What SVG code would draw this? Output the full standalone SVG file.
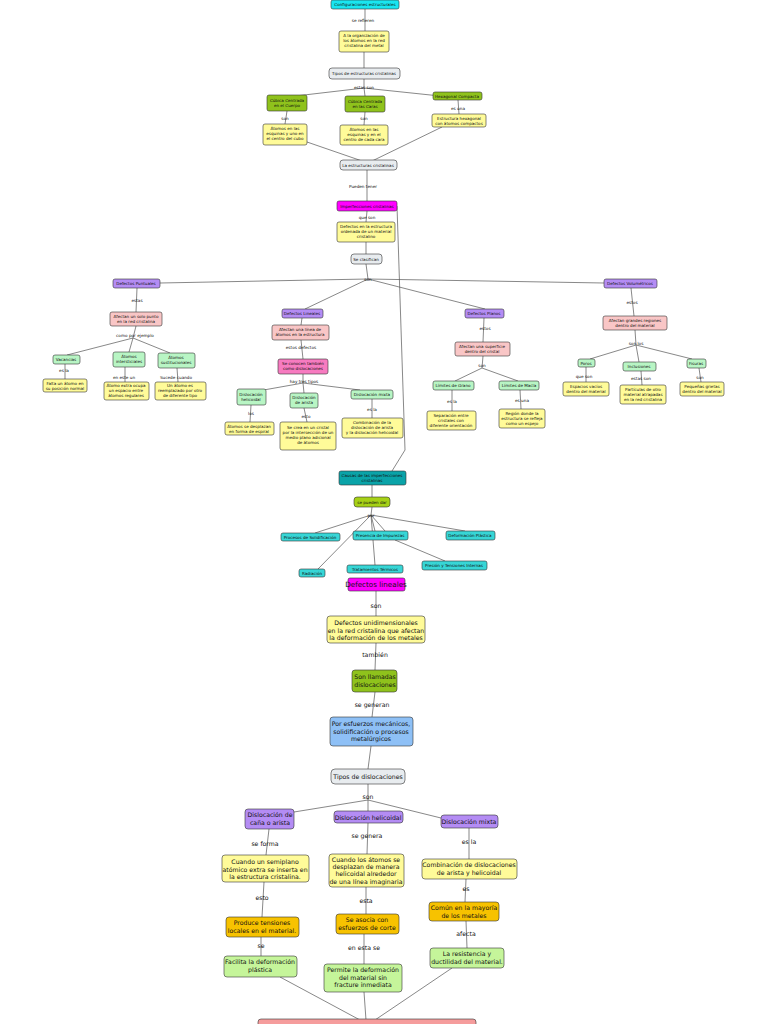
<svg xmlns="http://www.w3.org/2000/svg" width="768" height="1024" viewBox="0 0 768 1024">
<style>
text{font-family:"DejaVu Sans","Liberation Sans",sans-serif;text-anchor:middle;fill:#111}
.s{font-size:4.1px}.b{font-size:6.2px}.l{font-size:4.2px}.lb{font-size:6.2px}
rect{stroke:#333;stroke-width:0.6}
.cy{fill:#19e6f0}.ye{fill:#fffb99}.gr{fill:#e8ecef}.ol{fill:#8fc21c}.mg{fill:#ff00ff}.pu{fill:#b48cf4}.pk{fill:#f9c6c6}.hp{fill:#f77bc0}.lg{fill:#b8f5c4}.tl{fill:#0aa3a8}.yg{fill:#a6d116}.cs{fill:#37d6d6}.bl{fill:#8ec0f6}.or{fill:#f7c200}.lgg{fill:#c5f59a}.sa{fill:#f59c9c}
#conn line,#conn polyline{stroke:#555;stroke-width:0.7;fill:none}
</style>
<g id="conn">
<line x1="365" y1="9" x2="365" y2="31"/><line x1="364" y1="52" x2="364" y2="68"/><line x1="364" y1="79" x2="364" y2="88"/>
<line x1="364" y1="88" x2="287" y2="97"/><line x1="364" y1="88" x2="365" y2="96"/><line x1="364" y1="88" x2="440" y2="96"/>
<line x1="287" y1="111" x2="285" y2="124"/><line x1="365" y1="112" x2="364" y2="125"/><line x1="458" y1="100" x2="459" y2="114"/>
<line x1="307" y1="142" x2="365" y2="162"/><line x1="442" y1="127" x2="370" y2="162"/>
<line x1="367" y1="170" x2="367" y2="201"/><line x1="367" y1="211" x2="366" y2="222"/><line x1="366" y1="242" x2="366" y2="254"/><line x1="366" y1="264" x2="368" y2="279"/>
<line x1="368" y1="279" x2="160" y2="283"/><line x1="368" y1="279" x2="305" y2="309"/><line x1="368" y1="279" x2="485" y2="309"/><line x1="368" y1="279" x2="604" y2="283"/>
<polyline points="397,206 405,450 392,471"/>
<line x1="137" y1="288" x2="136" y2="312"/><line x1="136" y1="326" x2="133" y2="338"/>
<line x1="133" y1="338" x2="67" y2="355"/><line x1="133" y1="338" x2="129" y2="352"/><line x1="133" y1="338" x2="170" y2="353"/>
<line x1="65" y1="364" x2="65" y2="379"/><line x1="125" y1="367" x2="125" y2="382"/><line x1="177" y1="368" x2="178" y2="382"/>
<line x1="302" y1="318" x2="301" y2="325"/><line x1="301" y1="340" x2="303" y2="359"/><line x1="303" y1="374" x2="303" y2="383"/>
<line x1="303" y1="383" x2="258" y2="391"/><line x1="303" y1="383" x2="304" y2="393"/><line x1="303" y1="383" x2="360" y2="390"/>
<line x1="251" y1="405" x2="250" y2="422"/><line x1="304" y1="408" x2="307" y2="422"/><line x1="372" y1="399" x2="372" y2="418"/>
<line x1="484" y1="318" x2="483" y2="342"/><line x1="483" y1="356" x2="482" y2="368"/><line x1="482" y1="368" x2="455" y2="381"/><line x1="482" y1="368" x2="518" y2="381"/>
<line x1="452" y1="390" x2="452" y2="411"/><line x1="520" y1="390" x2="521" y2="409"/>
<line x1="631" y1="288" x2="634" y2="316"/><line x1="635" y1="330" x2="636" y2="345"/>
<line x1="636" y1="345" x2="590" y2="359"/><line x1="636" y1="345" x2="639" y2="362"/><line x1="636" y1="345" x2="692" y2="359"/>
<line x1="586" y1="367" x2="586" y2="382"/><line x1="641" y1="371" x2="642" y2="385"/><line x1="699" y1="368" x2="701" y2="382"/>
<line x1="372" y1="485" x2="372" y2="497"/><line x1="372" y1="507" x2="371" y2="515"/>
<line x1="371" y1="515" x2="315" y2="533"/><line x1="371" y1="515" x2="375" y2="531"/><line x1="371" y1="515" x2="465" y2="531"/><line x1="371" y1="515" x2="318" y2="569"/><line x1="371" y1="515" x2="375" y2="565"/><line x1="371" y1="515" x2="385" y2="531"/><line x1="395" y1="540" x2="445" y2="561"/>
<line x1="376" y1="591" x2="376" y2="616"/><line x1="376" y1="643" x2="375" y2="670"/><line x1="375" y1="692" x2="372" y2="717"/><line x1="371" y1="746" x2="368" y2="769"/><line x1="368" y1="784" x2="368" y2="800"/>
<line x1="368" y1="800" x2="294" y2="812"/><line x1="368" y1="800" x2="368" y2="811"/><line x1="368" y1="800" x2="441" y2="818"/>
<line x1="269" y1="829" x2="266" y2="855"/><line x1="368" y1="823" x2="367" y2="854"/><line x1="469" y1="828" x2="469" y2="859"/>
<line x1="264" y1="882" x2="262" y2="917"/><line x1="366" y1="887" x2="366" y2="914"/><line x1="466" y1="879" x2="465" y2="902"/>
<line x1="261" y1="937" x2="261" y2="956"/><line x1="364" y1="934" x2="364" y2="964"/><line x1="466" y1="921" x2="467" y2="948"/>
<line x1="280" y1="977" x2="360" y2="1020"/><line x1="364" y1="992" x2="366" y2="1020"/><line x1="452" y1="968" x2="375" y2="1020"/>
</g>
<g id="labels" class="l">
<text x="363" y="22">se refieren</text><text x="364" y="89">estas son</text><text x="285" y="120">son</text><text x="364" y="120">son</text><text x="458" y="110">es una</text>
<text x="363" y="188">Pueden tener</text><text x="367" y="219">que son</text><text x="368" y="281">son</text>
<text x="137" y="302">estas</text><text x="135" y="337">como por ejemplo</text><text x="64" y="372">es la</text><text x="124" y="379">en este un</text><text x="176" y="379">Sucede cuando</text>
<text x="301" y="349">estos defectos</text><text x="304" y="383">hay tres tipos</text><text x="251" y="415">los</text><text x="306" y="418">esto</text><text x="372" y="411">es la</text>
<text x="485" y="330">estos</text><text x="482" y="367">son</text><text x="452" y="403">es la</text><text x="522" y="402">es una</text>
<text x="632" y="304">estos</text><text x="636" y="345">son los</text><text x="584" y="378">que son</text><text x="641" y="380">estas son</text><text x="700" y="379">son</text>
<text x="371" y="517">por</text>
</g>
<g id="labels2" class="lb">
<text x="376" y="608">son</text><text x="375" y="657">también</text><text x="372" y="707">se generan</text><text x="368" y="799">son</text>
<text x="265" y="846">se forma</text><text x="367" y="838">se genera</text><text x="469" y="844">es la</text>
<text x="262" y="900">esto</text><text x="366" y="903">esta</text><text x="466" y="891">es</text>
<text x="261" y="948">se</text><text x="364" y="950">en esta se</text><text x="466" y="936">afecta</text>
</g>
<g id="n1"><rect class="cy" x="331" y="0" width="68" height="9" rx="2"/><text class="s" x="365" y="6">Configuraciones estructurales</text></g>
<g id="n2"><rect class="ye" x="339" y="31" width="50" height="21" rx="2"/><text class="s" x="364" y="37">A la organización de<tspan x="364" dy="5">los átomos en la red</tspan><tspan x="364" dy="5">cristalina del metal</tspan></text></g>
<g id="n3"><rect class="gr" x="329" y="68" width="71" height="11" rx="3"/><text class="s" x="364" y="75">Tipos de estructuras cristalinas</text></g>
<g id="n4"><rect class="ol" x="267" y="95" width="40" height="16" rx="2"/><text class="s" x="287" y="102">Cúbica Centrada<tspan x="287" dy="5">en el Cuerpo</tspan></text></g>
<g id="n5"><rect class="ol" x="345" y="96" width="40" height="16" rx="2"/><text class="s" x="365" y="103">Cúbica Centrada<tspan x="365" dy="5">en las Caras</tspan></text></g>
<g id="n6"><rect class="ol" x="433" y="92" width="49" height="8" rx="2"/><text class="s" x="457" y="97.5">Hexagonal Compacta</text></g>
<g id="n7"><rect class="ye" x="263" y="124" width="44" height="21" rx="2"/><text class="s" x="285" y="130">Átomos en las<tspan x="285" dy="5">esquinas y uno en</tspan><tspan x="285" dy="5">el centro del cubo</tspan></text></g>
<g id="n8"><rect class="ye" x="340" y="125" width="48" height="20" rx="2"/><text class="s" x="364" y="131">Átomos en las<tspan x="364" dy="5">esquinas y en el</tspan><tspan x="364" dy="5">centro de cada cara</tspan></text></g>
<g id="n9"><rect class="ye" x="432" y="114" width="54" height="13" rx="2"/><text class="s" x="459" y="120">Estructura hexagonal<tspan x="459" dy="5">con átomos compactos</tspan></text></g>
<g id="n10"><rect class="gr" x="340" y="160" width="57" height="10" rx="3"/><text class="s" x="368" y="166.5">La estructuras cristalinas</text></g>
<g id="n11"><rect class="mg" x="337" y="201" width="60" height="10" rx="2"/><text class="s" x="367" y="207.5">Imperfecciones cristalinas</text></g>
<g id="n12"><rect class="ye" x="337" y="222" width="58" height="20" rx="2"/><text class="s" x="366" y="228">Defectos en la estructura<tspan x="366" dy="5">ordenada de un material</tspan><tspan x="366" dy="5">cristalino</tspan></text></g>
<g id="n13"><rect class="gr" x="351" y="254" width="31" height="10" rx="3"/><text class="s" x="366" y="260.5">Se clasifican</text></g>
<g id="n14"><rect class="pu" x="113" y="279" width="47" height="9" rx="2"/><text class="s" x="136" y="285">Defectos Puntuales</text></g>
<g id="n15"><rect class="pk" x="110" y="312" width="52" height="14" rx="2"/><text class="s" x="136" y="318">Afectan un solo punto<tspan x="136" dy="5">en la red cristalina</tspan></text></g>
<g id="n16"><rect class="lg" x="53" y="355" width="27" height="9" rx="2"/><text class="s" x="66" y="361">Vacancias</text></g>
<g id="n17"><rect class="lg" x="113" y="352" width="32" height="15" rx="2"/><text class="s" x="129" y="358">Átomos<tspan x="129" dy="5">intersticiales</tspan></text></g>
<g id="n18"><rect class="lg" x="158" y="353" width="37" height="15" rx="2"/><text class="s" x="176" y="359">Átomos<tspan x="176" dy="5">sustitucionales</tspan></text></g>
<g id="n19"><rect class="ye" x="43" y="379" width="44" height="13" rx="2"/><text class="s" x="65" y="385">Falta un átomo en<tspan x="65" dy="5">su posición normal</tspan></text></g>
<g id="n20"><rect class="ye" x="104" y="382" width="45" height="18" rx="2"/><text class="s" x="126" y="387">Átomo extra ocupa<tspan x="126" dy="5">un espacio entre</tspan><tspan x="126" dy="5">átomos regulares</tspan></text></g>
<g id="n21"><rect class="ye" x="155" y="382" width="51" height="18" rx="2"/><text class="s" x="180" y="387">Un átomo es<tspan x="180" dy="5">reemplazado por otro</tspan><tspan x="180" dy="5">de diferente tipo</tspan></text></g>
<g id="n22"><rect class="pu" x="282" y="309" width="41" height="9" rx="2"/><text class="s" x="302" y="315">Defectos Lineales</text></g>
<g id="n23"><rect class="pk" x="272" y="325" width="57" height="15" rx="2"/><text class="s" x="300" y="331">Afectan una línea de<tspan x="300" dy="5">átomos en la estructura</tspan></text></g>
<g id="n24"><rect class="hp" x="278" y="359" width="50" height="15" rx="2"/><text class="s" x="303" y="365">Se conocen también<tspan x="303" dy="5">como dislocaciones</tspan></text></g>
<g id="n25"><rect class="lg" x="237" y="389" width="29" height="16" rx="2"/><text class="s" x="251" y="396">Dislocación<tspan x="251" dy="5">helicoidal</tspan></text></g>
<g id="n26"><rect class="lg" x="290" y="393" width="28" height="15" rx="2"/><text class="s" x="304" y="399">Dislocación<tspan x="304" dy="5">de arista</tspan></text></g>
<g id="n27"><rect class="lg" x="351" y="390" width="42" height="9" rx="2"/><text class="s" x="372" y="396">Dislocación mixta</text></g>
<g id="n28"><rect class="ye" x="225" y="422" width="49" height="13" rx="2"/><text class="s" x="249" y="428">Átomos se desplazan<tspan x="249" dy="5">en forma de espiral</tspan></text></g>
<g id="n29"><rect class="ye" x="280" y="422" width="56" height="28" rx="2"/><text class="s" x="308" y="429">Se crea en un cristal<tspan x="308" dy="5">por la intersección de un</tspan><tspan x="308" dy="5">medio plano adicional</tspan><tspan x="308" dy="5">de átomos</tspan></text></g>
<g id="n30"><rect class="ye" x="342" y="418" width="61" height="20" rx="2"/><text class="s" x="372" y="424">Combinación de la<tspan x="372" dy="5">dislocación de arista</tspan><tspan x="372" dy="5">y la dislocación helicoidal</tspan></text></g>
<g id="n31"><rect class="pu" x="465" y="309" width="39" height="9" rx="2"/><text class="s" x="484" y="315">Defectos Planos</text></g>
<g id="n32"><rect class="pk" x="455" y="342" width="55" height="14" rx="2"/><text class="s" x="482" y="348">Afectan una superficie<tspan x="482" dy="5">dentro del cristal</tspan></text></g>
<g id="n33"><rect class="lg" x="433" y="381" width="41" height="9" rx="2"/><text class="s" x="453" y="387">Límites de Grano</text></g>
<g id="n34"><rect class="lg" x="499" y="381" width="40" height="9" rx="2"/><text class="s" x="519" y="387">Límites de Macla</text></g>
<g id="n35"><rect class="ye" x="427" y="411" width="49" height="19" rx="2"/><text class="s" x="451" y="417">Separación entre<tspan x="451" dy="5">cristales con</tspan><tspan x="451" dy="5">diferente orientación</tspan></text></g>
<g id="n36"><rect class="ye" x="499" y="409" width="46" height="19" rx="2"/><text class="s" x="522" y="415">Región donde la<tspan x="522" dy="5">estructura se refleja</tspan><tspan x="522" dy="5">como un espejo</tspan></text></g>
<g id="n37"><rect class="pu" x="604" y="279" width="53" height="9" rx="2"/><text class="s" x="630" y="285">Defectos Volumétricos</text></g>
<g id="n38"><rect class="pk" x="603" y="316" width="64" height="14" rx="2"/><text class="s" x="635" y="322">Afectan grandes regiones<tspan x="635" dy="5">dentro del material</tspan></text></g>
<g id="n39"><rect class="lg" x="578" y="359" width="17" height="8" rx="2"/><text class="s" x="586" y="364.5">Poros</text></g>
<g id="n40"><rect class="lg" x="623" y="362" width="33" height="9" rx="2"/><text class="s" x="639" y="368">Inclusiones</text></g>
<g id="n41"><rect class="lg" x="687" y="359" width="19" height="9" rx="2"/><text class="s" x="696" y="365">Fisuras</text></g>
<g id="n42"><rect class="ye" x="563" y="382" width="46" height="14" rx="2"/><text class="s" x="586" y="388">Espacios vacíos<tspan x="586" dy="5">dentro del material</tspan></text></g>
<g id="n43"><rect class="ye" x="620" y="385" width="46" height="19" rx="2"/><text class="s" x="643" y="391">Partículas de otro<tspan x="643" dy="5">material atrapadas</tspan><tspan x="643" dy="5">en la red cristalina</tspan></text></g>
<g id="n44"><rect class="ye" x="680" y="382" width="44" height="14" rx="2"/><text class="s" x="702" y="388">Pequeñas grietas<tspan x="702" dy="5">dentro del material</tspan></text></g>
<g id="n45"><rect class="tl" x="339" y="471" width="67" height="14" rx="2"/><text class="s" x="372" y="477">Causas de las imperfecciones<tspan x="372" dy="5">cristalinas</tspan></text></g>
<g id="n46"><rect class="yg" x="354" y="497" width="36" height="10" rx="3"/><text class="s" x="372" y="503.5">se pueden dar</text></g>
<g id="n47"><rect class="cs" x="281" y="533" width="59" height="8" rx="2"/><text class="s" x="310" y="538.5">Procesos de Solidificación</text></g>
<g id="n48"><rect class="cs" x="353" y="531" width="55" height="9" rx="2"/><text class="s" x="380" y="537">Presencia de Impurezas</text></g>
<g id="n49"><rect class="cs" x="446" y="531" width="49" height="9" rx="2"/><text class="s" x="470" y="537">Deformación Plástica</text></g>
<g id="n50"><rect class="cs" x="299" y="569" width="26" height="8" rx="2"/><text class="s" x="312" y="574.5">Radiación</text></g>
<g id="n51"><rect class="cs" x="347" y="565" width="56" height="8" rx="2"/><text class="s" x="375" y="570.5">Tratamientos Térmicos</text></g>
<g id="n52"><rect class="cs" x="422" y="561" width="65" height="9" rx="2"/><text class="s" x="454" y="567">Presión y Tensiones Internas</text></g>
<g id="n53"><rect class="mg" x="348" y="578" width="57" height="13" rx="2"/><text class="b" x="376" y="587" style="font-size:7.2px">Defectos lineales</text></g>
<g id="n54"><rect class="ye" x="327" y="616" width="98" height="27" rx="3"/><text class="b" x="376" y="625">Defectos unidimensionales<tspan x="376" dy="7.5">en la red cristalina que afectan</tspan><tspan x="376" dy="7.5">la deformación de los metales</tspan></text></g>
<g id="n55"><rect class="ol" x="352" y="670" width="45" height="22" rx="3"/><text class="b" x="375" y="679">Son llamadas<tspan x="375" dy="7.5">dislocaciones</tspan></text></g>
<g id="n56"><rect class="bl" x="330" y="717" width="83" height="29" rx="3"/><text class="b" x="371" y="726">Por esfuerzos mecánicos,<tspan x="371" dy="7.5">solidificación o procesos</tspan><tspan x="371" dy="7.5">metalúrgicos</tspan></text></g>
<g id="n57"><rect class="gr" x="331" y="769" width="74" height="15" rx="4"/><text class="b" x="368" y="779">Tipos de dislocaciones</text></g>
<g id="n58"><rect class="pu" x="245" y="809" width="49" height="20" rx="3"/><text class="b" x="270" y="817">Dislocación de<tspan x="270" dy="7.5">caña o arista</tspan></text></g>
<g id="n59"><rect class="pu" x="334" y="811" width="69" height="12" rx="3"/><text class="b" x="368" y="819.5">Dislocación helicoidal</text></g>
<g id="n60"><rect class="pu" x="441" y="815" width="57" height="13" rx="3"/><text class="b" x="469" y="824">Dislocación mixta</text></g>
<g id="n61"><rect class="ye" x="222" y="855" width="87" height="27" rx="3"/><text class="b" x="265" y="864">Cuando un semiplano<tspan x="265" dy="7.5">atómico extra se inserta en</tspan><tspan x="265" dy="7.5">la estructura cristalina.</tspan></text></g>
<g id="n62"><rect class="ye" x="329" y="854" width="75" height="33" rx="3"/><text class="b" x="366" y="862">Cuando los átomos se<tspan x="366" dy="7.2">desplazan de manera</tspan><tspan x="366" dy="7.2">helicoidal alrededor</tspan><tspan x="366" dy="7.2">de una línea imaginaria</tspan></text></g>
<g id="n63"><rect class="ye" x="422" y="859" width="95" height="20" rx="3"/><text class="b" x="469" y="867">Combinación de dislocaciones<tspan x="469" dy="7.5">de arista y helicoidal</tspan></text></g>
<g id="n64"><rect class="or" x="226" y="917" width="73" height="20" rx="3"/><text class="b" x="262" y="925">Produce tensiones<tspan x="262" dy="7.5">locales en el material.</tspan></text></g>
<g id="n65"><rect class="or" x="336" y="914" width="63" height="20" rx="3"/><text class="b" x="367" y="922">Se asocia con<tspan x="367" dy="7.5">esfuerzos de corte</tspan></text></g>
<g id="n66"><rect class="or" x="429" y="902" width="70" height="19" rx="3"/><text class="b" x="464" y="910">Común en la mayoría<tspan x="464" dy="7.5">de los metales</tspan></text></g>
<g id="n67"><rect class="lgg" x="224" y="956" width="73" height="21" rx="3"/><text class="b" x="260" y="964">Facilita la deformación<tspan x="260" dy="7.5">plástica</tspan></text></g>
<g id="n68"><rect class="lgg" x="324" y="964" width="78" height="28" rx="3"/><text class="b" x="363" y="972">Permite la deformación<tspan x="363" dy="7.5">del material sin</tspan><tspan x="363" dy="7.5">fracture inmediata</tspan></text></g>
<g id="n69"><rect class="lgg" x="430" y="948" width="74" height="20" rx="3"/><text class="b" x="467" y="956">La resistencia y<tspan x="467" dy="7.5">ductilidad del material.</tspan></text></g>
<g id="n70"><rect class="sa" x="258" y="1019" width="218" height="14" rx="3"/></g>
</svg>
